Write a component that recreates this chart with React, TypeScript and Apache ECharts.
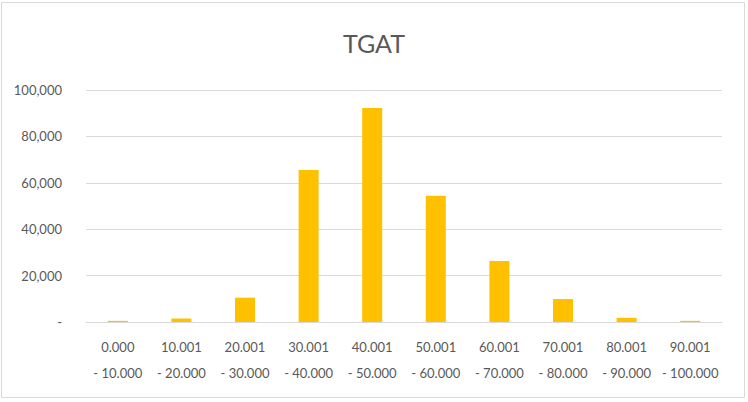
import React, { useEffect, useRef } from "react";
import * as echarts from "echarts";

const titleText = "TGAT";
const categories = [
  "0.000\n- 10.000",
  "10.001\n- 20.000",
  "20.001\n- 30.000",
  "30.001\n- 40.000",
  "40.001\n- 50.000",
  "50.001\n- 60.000",
  "60.001\n- 70.000",
  "70.001\n- 80.000",
  "80.001\n- 90.000",
  "90.001\n- 100.000",
];
const counts = [500, 1500, 10500, 65500, 92200, 54400, 26300, 9900, 1800, 500];
const yTicks = { min: 0, max: 100000, interval: 20000 };

export default function App() {
  const ref = useRef<HTMLDivElement>(null);
  useEffect(() => {
    document.body.style.margin = "0";
    const chart = echarts.init(ref.current!, null, { renderer: "svg" });
    const font = "Lato, 'Liberation Sans', sans-serif";
    chart.setOption({
      animation: false,
      backgroundColor: "#ffffff",
      textStyle: { fontFamily: font },
      title: {
        text: titleText,
        left: "center",
        top: 25,
        textStyle: { fontFamily: font, fontSize: 25, fontWeight: "normal", color: "#595959" },
      },
      graphic: [
        {
          type: "rect",
          shape: { x: 1.5, y: 2.5, width: 743, height: 395 },
          style: { fill: "none", stroke: "#d9d9d9", lineWidth: 1 },
          silent: true,
        },
      ],
      grid: { left: 86, right: 26, top: 90, bottom: 80, containLabel: false },
      xAxis: {
        type: "category",
        data: categories,
        axisLine: { lineStyle: { color: "#d9d9d9" } },
        axisTick: { show: false },
        axisLabel: {
          color: "#595959",
          fontSize: 13,
          fontFamily: font,
          lineHeight: 26,
          margin: 12,
          interval: 0,
        },
      },
      yAxis: {
        type: "value",
        min: yTicks.min,
        max: yTicks.max,
        interval: yTicks.interval,
        axisLine: { show: false },
        axisTick: { show: false },
        splitLine: { lineStyle: { color: "#d9d9d9" } },
        axisLabel: {
          color: "#595959",
          fontSize: 13,
          fontFamily: font,
          margin: 24,
          formatter: (v: number) => (v === 0 ? "-" : v.toLocaleString("en-US")),
        },
      },
      series: [
        {
          type: "bar",
          data: counts,
          barWidth: 20,
          itemStyle: { color: "#ffc000" },
        },
      ],
    });
    return () => chart.dispose();
  }, []);
  return <div ref={ref} style={{ width: 748, height: 402 }} />;
}
